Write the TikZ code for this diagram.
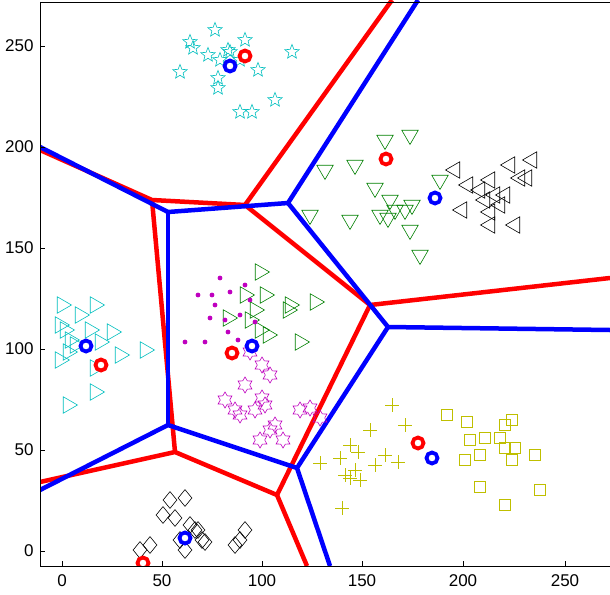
\documentclass[tikz,border=0pt]{standalone}
\usepackage{fontspec}
\setsansfont{Liberation Sans}
\usetikzlibrary{shapes.geometric}
\definecolor{mcyan}{rgb}{0,0.75,0.75}
\definecolor{mmag}{rgb}{0.75,0,0.75}
\definecolor{mgreen}{rgb}{0,0.5,0}
\definecolor{molive}{rgb}{0.75,0.75,0}
\begin{document}
\begin{tikzpicture}[x=1pt,y=-1pt,
 vred/.style={red,line width=4.5pt},
 vblue/.style={blue,line width=4.5pt},
 mk/.style={inner sep=0pt,line width=0.6pt},
 cstar/.style={mk,draw=mcyan,star,star points=5,star point ratio=2.3,minimum size=15pt},
 hstar/.style={mk,draw=mmag,star,star points=6,star point ratio=1.7,minimum size=16pt},
 tri/.style={mk,regular polygon,regular polygon sides=3,minimum size=19pt},
 dia/.style={mk,draw=black,diamond,minimum width=14pt,minimum height=17pt},
 sq/.style={mk,draw=molive,rectangle,minimum size=11pt},
 ctr/.style={circle,draw,line width=3.8pt,minimum size=11pt,inner sep=0pt,fill=white},
 lab/.style={font=\sffamily\fontsize{17}{17}\selectfont}]
\useasboundingbox (0,0) rectangle (610,594);
\fill[white] (0,0) rectangle (610,594);
% voronoi red
\coordinate (ra) at (152,200); \coordinate (rb) at (245,205);
\coordinate (rc) at (370,305); \coordinate (rd) at (277,495);
\coordinate (re) at (175,452);
\draw[vred] (40,150) -- (ra) -- (rb) -- (392,0);
\draw[vred] (rb) -- (rc) -- (610,278);
\draw[vred] (rc) -- (rd) -- (307,566);
\draw[vred] (rd) -- (re) -- (40,482);
\draw[vred] (ra) -- (re);
% voronoi blue
\coordinate (ba) at (168,212); \coordinate (bb) at (288,203);
\coordinate (bc) at (388,327); \coordinate (bd) at (297,468);
\coordinate (be) at (168,425);
\draw[vblue] (40,147) -- (ba) -- (bb) -- (418,0);
\draw[vblue] (bb) -- (bc) -- (610,330);
\draw[vblue] (bc) -- (bd) -- (330,566);
\draw[vblue] (bd) -- (be) -- (40,490);
\draw[vblue] (ba) -- (be);
% points
\foreach \p in {(190,42),(215,30),(193,48),(245,40),(230,52),(208,55),(218,78),(228,50),(180,72),(218,88),(258,70),(240,112),(252,112),(292,52),(275,100),(240,60),(220,60)}
  \node[cstar] at \p {};
\foreach \p in {(325,170),(355,165),(385,140),(410,135),(375,188),(390,200),(350,220),(380,215),(395,210),(405,210),(410,230),(420,255),(310,215),(440,180),(412,205),(388,218)}
  \node[tri,draw=mgreen,shape border rotate=180] at \p {};
\foreach \p in {(455,170),(468,185),(480,190),(490,180),(495,195),(510,165),(520,178),(527,178),(462,210),(490,212),(500,205),(515,225),(532,160),(490,225),(505,195),(485,200)}
  \node[tri,draw=black,shape border rotate=90] at \p {};
\foreach \p in {(62,305),(65,330),(68,352),(90,330),(112,332),(95,305),(80,315),(70,340),(95,368),(75,345),(100,342),(60,360),(145,350),(120,355),(68,405),(95,392),(60,325)}
  \node[tri,draw=mcyan,shape border rotate=-90] at \p {};
\foreach \p in {(260,272),(265,295),(255,310),(260,330),(268,335),(288,310),(315,302),(300,342),(290,305),(245,295),(228,318),(250,320)}
  \node[tri,draw=mgreen,shape border rotate=-90] at \p {};
\foreach \p in {(198,295),(212,295),(220,278),(230,292),(250,300),(240,315),(225,320),(210,318),(185,342),(205,342),(228,332),(238,340),(255,322),(245,285),(215,305)}
  \fill[mmag] \p circle (2.4pt);
\foreach \p in {(250,352),(262,365),(270,375),(245,385),(262,398),(225,400),(235,410),(240,415),(265,405),(275,425),(260,440),(270,430),(283,440),(300,410),(310,408),(320,418),(255,410)}
  \node[hstar] at \p {};
\foreach \p in {(392,405),(405,425),(370,430),(350,445),(340,458),(358,452),(385,455),(398,462),(375,465),(320,463),(355,470),(350,478),(360,480),(342,508),(345,475)}
  \draw[molive,line width=0.6pt] \p ++(-7,0) -- ++(14,0) \p ++(0,-7) -- ++(0,14);
\foreach \p in {(447,415),(467,422),(485,438),(505,425),(512,420),(500,438),(505,448),(515,448),(470,440),(480,455),(465,460),(535,455),(512,460),(540,490),(505,505),(480,487)}
  \node[sq] at \p {};
\foreach \p in {(170,500),(185,498),(163,515),(175,518),(190,525),(198,530),(202,540),(205,542),(180,540),(185,550),(235,545),(240,540),(245,530),(150,545),(140,550),(195,530)}
  \node[dia] at \p {};
% centers
\foreach \p/\n in {(245,56)/r1,(386,159)/r2,(101,365)/r3,(232,353)/r4,(418,443)/r5,(143,563)/r6}
  \node[ctr,draw=red] (\n) at \p {};
\foreach \p/\n in {(230,66)/b1,(435,198)/b2,(86,346)/b3,(252,346)/b4,(432,458)/b5,(185,538)/b6}
  \node[ctr,draw=blue] (\n) at \p {};
% axes
\fill[white] (0,0) rectangle (40,594);
\fill[white] (0,566) rectangle (610,594);
\draw[line width=0.8pt] (40,2) -- (40,566) -- (610,566);
\draw[line width=0.8pt] (40,2) -- (610,2);
\foreach \v/\px in {0/62,50/162,100/262,150/362,200/463,250/565}{
  \draw (\px,566) -- (\px,561);
  \node[lab] at (\px,581) {\v};}
\foreach \v/\py in {0/551,50/450,100/349,150/248,200/147,250/46}{
  \draw (40,\py) -- (45,\py);
  \node[lab,anchor=east] at (37,\py) {\v};}
\end{tikzpicture}
\end{document}
